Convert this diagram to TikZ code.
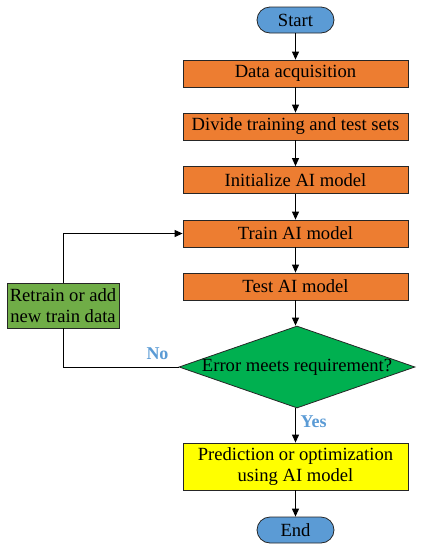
\documentclass[tikz,border=0pt]{standalone}
\usepackage{fontspec}
\setmainfont{Liberation Serif}
\usetikzlibrary{shapes.geometric,arrows.meta}
\definecolor{cblue}{HTML}{5B9BD5}
\definecolor{corange}{HTML}{ED7D31}
\definecolor{cgreen}{HTML}{00B050}
\definecolor{cgbox}{HTML}{70AD47}
\definecolor{cyellow}{HTML}{FFFF00}
\begin{document}
\begin{tikzpicture}[x=1pt,y=-1pt,
  every node/.style={font=\fontsize{18.6}{21}\selectfont, inner sep=0pt},
  term/.style={draw=black!85, line width=0.8pt, fill=cblue, rounded corners=13pt, minimum width=77pt, minimum height=26pt},
  procbox/.style={draw=black!85, line width=0.8pt, fill=corange, minimum width=225pt, minimum height=27pt},
  conn/.style={draw=black, line width=1pt, -{Triangle[length=8pt,width=7pt]}},
  lbl/.style={font=\fontsize{18}{20}\selectfont\bfseries, text=cblue}
]
\useasboundingbox (0,0) rectangle (423,550);
\node[term] (start) at (295.5,20) {Start};
\node[procbox] (data) at (295.5,73.5) {Data acquisition};
\node[procbox] (divide) at (295.5,126.5) {Divide training and test sets};
\node[procbox] (init) at (295.5,180) {Initialize AI model};
\node[procbox] (train) at (295.5,233.5) {Train AI model};
\node[procbox] (test) at (295.5,286.5) {Test AI model};
\node[draw=black!85, line width=0.8pt, fill=cgreen, shape=diamond, minimum width=236pt, minimum height=82pt] (dec) at (297,367) {};
\node (dectext) at (297,367) {Error meets requirement?};
\node[draw=black!85, line width=0.8pt, fill=cyellow, minimum width=225pt, minimum height=47pt, align=center] (pred) at (295.5,466.5) {Prediction or optimization\\using AI model};
\node[term] (end) at (295.5,530) {End};
\node[draw=black!85, line width=0.8pt, fill=cgbox, minimum width=112pt, minimum height=45pt, align=center] (retrain) at (63,305.5) {Retrain or add\\new train data};
\node[lbl] (no) at (157.5,354) {No};
\node[lbl] (yes) at (313.5,422) {Yes};
\coordinate (cup) at (63,233.5);
\coordinate (cdown) at (63,367);
\draw[conn] (start) -- (data);
\draw[conn] (data) -- (divide);
\draw[conn] (divide) -- (init);
\draw[conn] (init) -- (train);
\draw[conn] (train) -- (test);
\draw[conn] (test) -- (test.south |- dec.north);
\draw[conn] (dec.south -| pred.north) -- (pred);
\draw[conn] (pred) -- (end);
\draw[line width=1pt] (dec.west) -- (cdown) -- (retrain.south);
\draw[conn] (retrain.north) -- (cup) -- (train.west);
\end{tikzpicture}
\end{document}
